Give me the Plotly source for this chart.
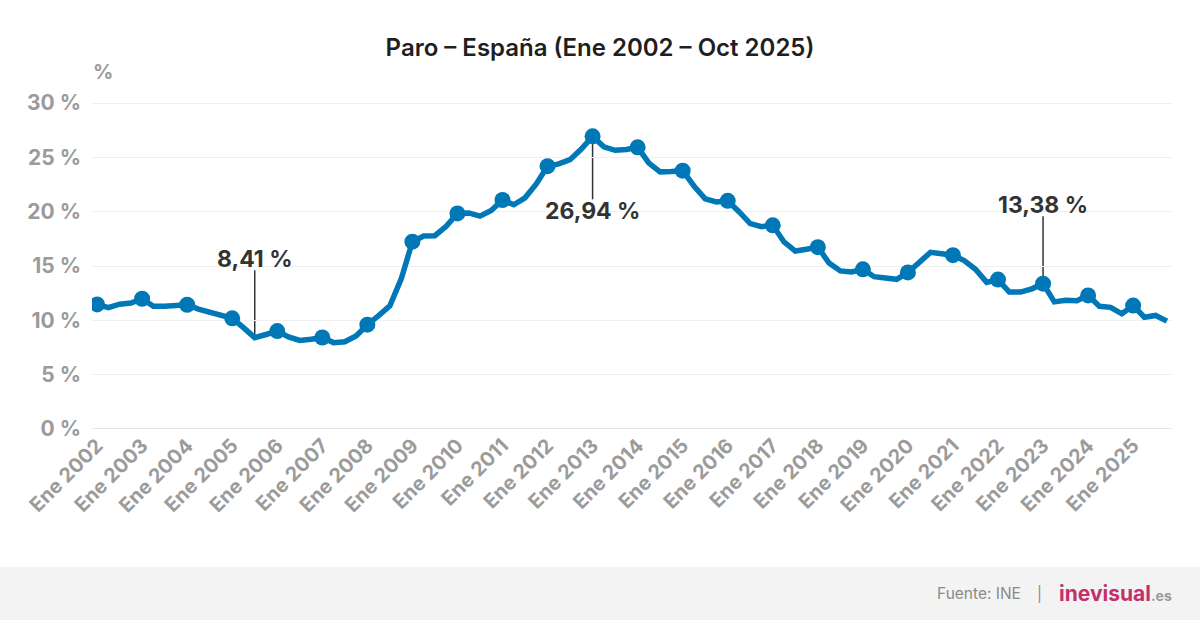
import plotly.graph_objects as go

# ---------------- data ----------------
years = list(range(2002, 2026))
quarters = ["Ene", "Abr", "Jul", "Oct"]
periods = [f"{q} {y}" for y in years for q in quarters]

paro = [
    11.47, 11.17, 11.49, 11.59,   # 2002
    11.99, 11.30, 11.30, 11.38,   # 2003
    11.44, 11.03, 10.74, 10.53,   # 2004
    10.19, 9.33, 8.41, 8.70,      # 2005
    9.01, 8.47, 8.15, 8.26,       # 2006
    8.42, 7.95, 8.03, 8.57,       # 2007
    9.60, 10.43, 11.33, 13.79,    # 2008
    17.24, 17.77, 17.79, 18.66,   # 2009
    19.84, 19.89, 19.59, 20.11,   # 2010
    21.08, 20.64, 21.28, 22.56,   # 2011
    24.19, 24.40, 24.79, 25.77,   # 2012
    26.94, 25.97, 25.65, 25.73,   # 2013
    25.93, 24.47, 23.67, 23.70,   # 2014
    23.78, 22.37, 21.18, 20.90,   # 2015
    21.00, 20.00, 18.91, 18.63,   # 2016
    18.75, 17.22, 16.38, 16.55,   # 2017
    16.74, 15.28, 14.55, 14.45,   # 2018
    14.70, 14.02, 13.92, 13.78,   # 2019
    14.41, 15.33, 16.26, 16.13,   # 2020
    16.00, 15.50, 14.70, 13.50,   # 2021
    13.75, 12.60, 12.60, 12.90,   # 2022
    13.38, 11.70, 11.85, 11.80,   # 2023
    12.30, 11.30, 11.20, 10.60,   # 2024
    11.36, 10.29, 10.45, 9.93,    # 2025
]

highlight_periods = ["Jul 2005", "Ene 2013", "Ene 2023"]
highlight_labels = ["8,41 %", "26,94 %", "13,38 %"]
highlight_above = [True, False, True]

y_ticks = [0, 5, 10, 15, 20, 25, 30]
y_tick_labels = [f"{v} %" for v in y_ticks]
x_tick_labels = [f"Ene {y}" for y in years]

# ---------------- figure ----------------
BLUE = "#0077b6"
GRAY = "#9b9b9b"
DARK = "#333333"
FONT = "Inter"

idx = list(range(len(paro)))
jan_idx = [i for i in idx if i % 4 == 0]

fig = go.Figure()
fig.add_trace(go.Scatter(
    x=idx, y=paro, mode="lines",
    line=dict(color=BLUE, width=5.5, shape="linear"),
    text=periods, hovertemplate="%{text}: %{y:.2f} %<extra></extra>",
    showlegend=False,
))
fig.add_trace(go.Scatter(
    x=jan_idx, y=[paro[i] for i in jan_idx], mode="markers",
    marker=dict(color=BLUE, size=16),
    text=[periods[i] for i in jan_idx],
    hovertemplate="%{text}: %{y:.2f} %<extra></extra>",
    showlegend=False,
))

# highlight annotations with leader lines
for per, lab, above in zip(highlight_periods, highlight_labels, highlight_above):
    i = periods.index(per)
    v = paro[i]
    if above:
        y_end = v + 6.2
        y_txt = y_end + 1.0
    else:
        y_end = v - 5.8
        y_txt = y_end - 1.1
    fig.add_shape(type="line", x0=i, x1=i, y0=v, y1=y_end,
                  line=dict(color=DARK, width=1.5), layer="below")
    fig.add_annotation(x=i, y=y_txt, text=lab, showarrow=False,
                       font=dict(family=FONT, size=23, color=DARK, weight=700))

# geometry
W, H = 1200, 630
ML, MR, MT, MB = 92, 28, 102, 201
pw, ph = W - ML - MR, H - MT - MB

def px_x(px):
    return (px - ML) / pw

def px_y(py):
    return (H - MB - py) / ph

# baseline
fig.add_shape(type="line", xref="paper", yref="y", x0=0, x1=1, y0=0, y1=0,
              line=dict(color="#e6e6e6", width=2), layer="below")

# footer band
fig.add_shape(type="rect", xref="paper", yref="paper",
              x0=px_x(0), x1=px_x(W), y0=px_y(620), y1=px_y(567),
              fillcolor="#f3f3f3", line=dict(width=0), layer="below")
fig.add_annotation(xref="paper", yref="paper", x=px_x(1023), y=px_y(593),
                   xanchor="right", yanchor="middle", showarrow=False,
                   text="Fuente: INE", font=dict(family=FONT, size=15.5, color="#8a8a8a"))
fig.add_annotation(xref="paper", yref="paper", x=px_x(1039), y=px_y(593),
                   xanchor="center", yanchor="middle", showarrow=False,
                   text="|", font=dict(family=FONT, size=15, color="#8a8a8a"))
fig.add_annotation(xref="paper", yref="paper", x=px_x(1057), y=px_y(593),
                   xanchor="left", yanchor="middle", showarrow=False,
                   text="<b><span style='color:#c2306a'>inevisual</span></b><span style='color:#9a9a9a;font-size:14px'><b>.es</b></span>",
                   font=dict(family=FONT, size=21, color="#c2306a"))

# "%" axis title
fig.add_annotation(xref="paper", yref="paper", x=px_x(103), y=px_y(72),
                   xanchor="center", yanchor="middle", showarrow=False,
                   text="%", font=dict(family=FONT, size=20, color=GRAY, weight=700))

fig.update_layout(
    width=W, height=H,
    margin=dict(l=ML, r=MR, t=MT, b=MB),
    paper_bgcolor="white", plot_bgcolor="white",
    title=dict(text="Paro – España (Ene 2002 – Oct 2025)", x=0.5, xref="container",
               xanchor="center",
               y=1 - 48 / H, yanchor="middle",
               font=dict(family=FONT, size=24, color="#1f1f1f", weight=600)),
    font=dict(family=FONT),
    xaxis=dict(
        range=[-0.45, len(paro) - 1 + 0.45],
        tickmode="array", tickvals=jan_idx, ticktext=x_tick_labels,
        tickangle=-45, showgrid=False, zeroline=False, showline=False,
        ticks="", tickfont=dict(family=FONT, size=20, color=GRAY, weight=700),
    ),
    yaxis=dict(
        range=[0, 30.1],
        tickmode="array", tickvals=y_ticks, ticktext=y_tick_labels,
        showgrid=True, gridcolor="#f0f0f0", gridwidth=1,
        zeroline=False, showline=False, ticks="",
        ticklabelstandoff=10,
        tickfont=dict(family=FONT, size=21, color=GRAY, weight=700),
    ),
)

fig.write_html("out.html")
